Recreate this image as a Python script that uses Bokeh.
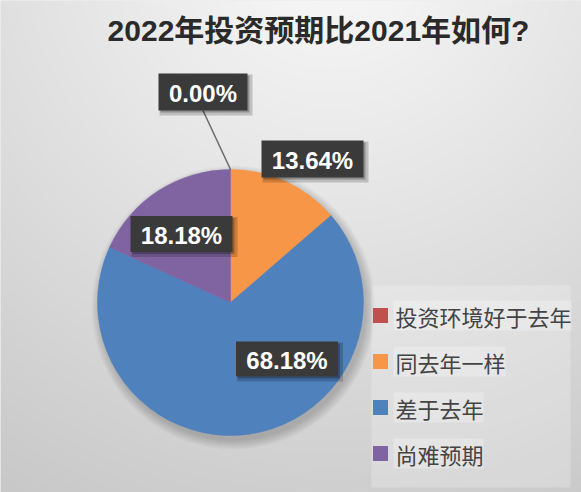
import numpy as np
from bokeh.plotting import figure
from bokeh.models import ColumnDataSource
from bokeh.core.properties import value
from bokeh.embed import file_html
from bokeh.resources import INLINE

# ---- data ----
title_text = "2022年投资预期比2021年如何?"
categories = ["投资环境好于去年", "同去年一样", "差于去年", "尚难预期"]
percents = [0.00, 13.64, 68.18, 18.18]
colors = ["#c0504d", "#f79646", "#4f81bd", "#8064a2"]

# ---- layout (image pixel coords, y downward) ----
W, H = 581, 492
CX, CY, R = 230, 302, 133
label_centers = [(202.5, 91.5), (312, 158.5), (286.5, 358.5), (181, 233.5)]
label_sizes = [(89, 37), (102, 37), (102, 35), (102, 36)]
legend_x0, legend_y0, legend_x1, legend_y1 = 371, 285, 570, 487
legend_rows = [315, 361, 407, 453]

def Y(y):
    return H - y

p = figure(width=W, height=H, x_range=(0, W), y_range=(0, H),
           output_backend="svg", toolbar_location=None, min_border=0)
p.axis.visible = False
p.grid.visible = False
p.outline_line_color = None
p.background_fill_color = "#dddddd"
p.border_fill_color = "#dddddd"

# ---- background radial gradient ----
yy, xx = np.mgrid[0:H, 0:W]
d = np.sqrt((xx - 330.0) ** 2 + (yy + 60.0) ** 2)
g = np.clip(250 - 0.078 * d, 190, 250).astype(np.uint32)
img = (255 << 24) | (g << 16) | (g << 8) | g
img = img[::-1].copy()
p.image_rgba(image=[img.view(np.uint32).reshape(H, W)], x=0, y=0, dw=W, dh=H)

# ---- pie shadow ----
for i in range(10):
    p.circle(x=CX + 3, y=Y(CY + 5), radius=R + 9 - i, fill_color="#000000",
             fill_alpha=0.018, line_color=None)

# ---- pie ----
fr = np.array(percents) / sum(percents)
cum = np.concatenate([[0], np.cumsum(fr)])
starts = np.pi / 2 - 2 * np.pi * cum[:-1]
ends = np.pi / 2 - 2 * np.pi * cum[1:]
mask = fr > 0
src = ColumnDataSource(dict(
    start=list(starts[mask]), end=list(ends[mask]),
    color=[c for c, m in zip(colors, mask) if m]))
p.wedge(x=CX, y=Y(CY), radius=R, start_angle="start", end_angle="end",
        direction="clock", fill_color="color", line_color="color",
        line_width=0.5, source=src)

# ---- leader line for the zero slice ----
zx, zy = label_centers[0]
zh = label_sizes[0][1]
tip_a = starts[0]
p.line(x=[zx, CX + R * np.cos(tip_a)], y=[Y(zy + zh / 2), Y(CY) + R * np.sin(tip_a)],
       line_color="#6a6a6a", line_width=1.5)

# ---- data labels ----
lx = [c[0] for c in label_centers]
ly = [Y(c[1]) for c in label_centers]
lw = [s[0] for s in label_sizes]
lh = [s[1] for s in label_sizes]
p.rect(x=[v + 3 for v in lx], y=[v - 3 for v in ly],
       width=[w + 4 for w in lw], height=[h + 4 for h in lh],
       fill_color="#000000", fill_alpha=0.18, line_color=None)
p.rect(x=[v + 2 for v in lx], y=[v - 2 for v in ly], width=lw, height=lh,
       fill_color="#000000", fill_alpha=0.25, line_color=None)
p.rect(x=lx, y=ly, width=lw, height=lh, fill_color="#3a3a3a", line_color=None)
p.text(x=lx, y=[v - 1 for v in ly], text=["%.2f%%" % v for v in percents],
       text_align="center", text_baseline="middle", text_color="white",
       text_font=value("Liberation Sans"), text_font_style="bold",
       text_font_size="24px")

# ---- title ----
p.text(x=[318], y=[Y(30)], text=[title_text], text_align="center",
       text_baseline="middle", text_color="#2a2a2a",
       text_font=value("Liberation Sans, Noto Sans CJK SC"),
       text_font_style="bold", text_font_size="30px")

# ---- legend ----
p.quad(left=[legend_x0], right=[legend_x1], top=[Y(legend_y0)], bottom=[Y(legend_y1)],
       fill_color="#ffffff", fill_alpha=0.22, line_color=None)
lab_w = [22 * len(c) + 2 for c in categories]
p.quad(left=[legend_x0 + 22] * 4, right=[legend_x0 + 22 + w for w in lab_w],
       top=[Y(r - 15) for r in legend_rows], bottom=[Y(r + 15) for r in legend_rows],
       fill_color="#ffffff", fill_alpha=0.25, line_color=None)
p.rect(x=[380] * 4, y=[Y(r) for r in legend_rows], width=15, height=15,
       fill_color=colors, line_color=None)
p.text(x=[395] * 4, y=[Y(r) for r in legend_rows], text=categories,
       text_align="left", text_baseline="middle", text_color="#444444",
       text_font=value("Noto Sans CJK SC"), text_font_size="22px")

open("out.html", "w").write(file_html(p, INLINE))
